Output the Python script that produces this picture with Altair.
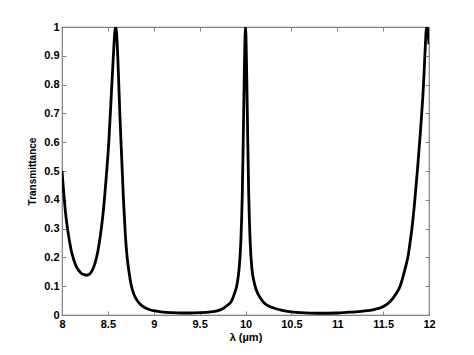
import altair as alt
import pandas as pd

wavelength = [8.00, 8.02, 8.04, 8.06, 8.08, 8.10, 8.13, 8.16, 8.20, 8.24, 8.27, 8.30,
              8.33, 8.36, 8.39, 8.42, 8.45, 8.48, 8.51, 8.54, 8.56, 8.575, 8.585, 8.595,
              8.61, 8.63, 8.65, 8.67, 8.69, 8.71, 8.73, 8.75, 8.78, 8.81, 8.85, 8.90,
              8.95, 9.00, 9.10, 9.20, 9.30, 9.40, 9.50, 9.60, 9.70, 9.75, 9.80, 9.85,
              9.88, 9.91, 9.93, 9.95, 9.965, 9.975, 9.985, 9.995, 10.00, 10.005, 10.015,
              10.025, 10.035, 10.05, 10.07, 10.09, 10.12, 10.16, 10.21, 10.30, 10.40,
              10.50, 10.60, 10.80, 11.00, 11.10, 11.20, 11.30, 11.40, 11.48, 11.54,
              11.58, 11.62, 11.65, 11.685, 11.71, 11.735, 11.755, 11.775, 11.795,
              11.81, 11.84, 11.873, 11.905, 11.94, 11.955, 11.97, 11.98, 11.99, 12.00]
transmittance = [0.50, 0.42, 0.35, 0.30, 0.26, 0.225, 0.19, 0.165, 0.148, 0.140, 0.138, 0.142,
                 0.155, 0.18, 0.22, 0.28, 0.36, 0.47, 0.60, 0.78, 0.90, 0.98, 1.00, 0.98,
                 0.88, 0.70, 0.55, 0.40, 0.28, 0.20, 0.15, 0.11, 0.075, 0.055, 0.038, 0.026,
                 0.019, 0.015, 0.010, 0.008, 0.007, 0.007, 0.008, 0.010, 0.015, 0.022, 0.033, 0.05,
                 0.075, 0.11, 0.16, 0.26, 0.42, 0.60, 0.80, 0.97, 1.00, 0.97, 0.80,
                 0.60, 0.42, 0.26, 0.16, 0.12, 0.085, 0.06, 0.04, 0.025, 0.016,
                 0.011, 0.008, 0.006, 0.007, 0.009, 0.011, 0.014, 0.019, 0.026, 0.037,
                 0.048, 0.064, 0.078, 0.10, 0.125, 0.155, 0.18, 0.21, 0.255,
                 0.29, 0.38, 0.50, 0.63, 0.80, 0.90, 0.99, 1.00, 0.98, 0.94]

x_ticks = [8, 8.5, 9, 9.5, 10, 10.5, 11, 11.5, 12]
y_ticks = [0, 0.1, 0.2, 0.3, 0.4, 0.5, 0.6, 0.7, 0.8, 0.9, 1]

df = pd.DataFrame({"wl": wavelength, "T": transmittance})

FONT = "Liberation Sans"
GREY = "#808080"

xscale = alt.Scale(domain=[8, 12], nice=False, zero=False)
yscale = alt.Scale(domain=[0, 1], nice=False)

base = alt.Chart(df)

main = base.mark_line(color="black", strokeWidth=2.8, clip=True, interpolate="monotone").encode(
    x=alt.X("wl:Q", scale=xscale,
            axis=alt.Axis(values=x_ticks, format="~g", title="λ (µm)", orient="bottom",
                          offset=-4, tickSize=4, labelPadding=3, domain=False,
                          tickColor=GREY, grid=False, labelFont=FONT, labelFontSize=11,
                          labelFontWeight="bold", labelColor="black", labelFlush=False,
                          labelOverlap=False, titleFont=FONT, titleFontSize=11,
                          titleFontWeight="bold", titleColor="black", titlePadding=2)),
    y=alt.Y("T:Q", scale=yscale,
            axis=alt.Axis(values=y_ticks, format="~g", title="Transmittance", orient="left",
                          offset=-4, tickSize=4, labelPadding=3, domain=False,
                          tickColor=GREY, grid=False, labelFont=FONT, labelFontSize=11,
                          labelFontWeight="bold", labelColor="black", labelFlush=False,
                          labelOverlap=False, titleFont=FONT, titleFontSize=10,
                          titleFontWeight="bold", titleColor="black", titlePadding=6)),
)

frame_axes = base.mark_line(opacity=0).encode(
    x=alt.X("wl:Q", scale=xscale,
            axis=alt.Axis(values=x_ticks, orient="top", offset=-4, tickSize=4,
                          labels=False, domain=False, tickColor=GREY, grid=False, title=None)),
    y=alt.Y("T:Q", scale=yscale,
            axis=alt.Axis(values=y_ticks, orient="right", offset=-4, tickSize=4,
                          labels=False, domain=False, tickColor=GREY, grid=False, title=None)),
)

chart = alt.layer(main, frame_axes).resolve_axis(
    x="independent", y="independent"
).properties(
    width=367, height=288,
    autosize=alt.AutoSizeParams(type="none"),
    padding={"left": 62, "top": 27, "right": 45, "bottom": 40},
    background="white",
).configure_view(stroke=GREY, strokeWidth=1.2)

chart.save("out.html", embed_options={"renderer": "svg", "actions": False})
